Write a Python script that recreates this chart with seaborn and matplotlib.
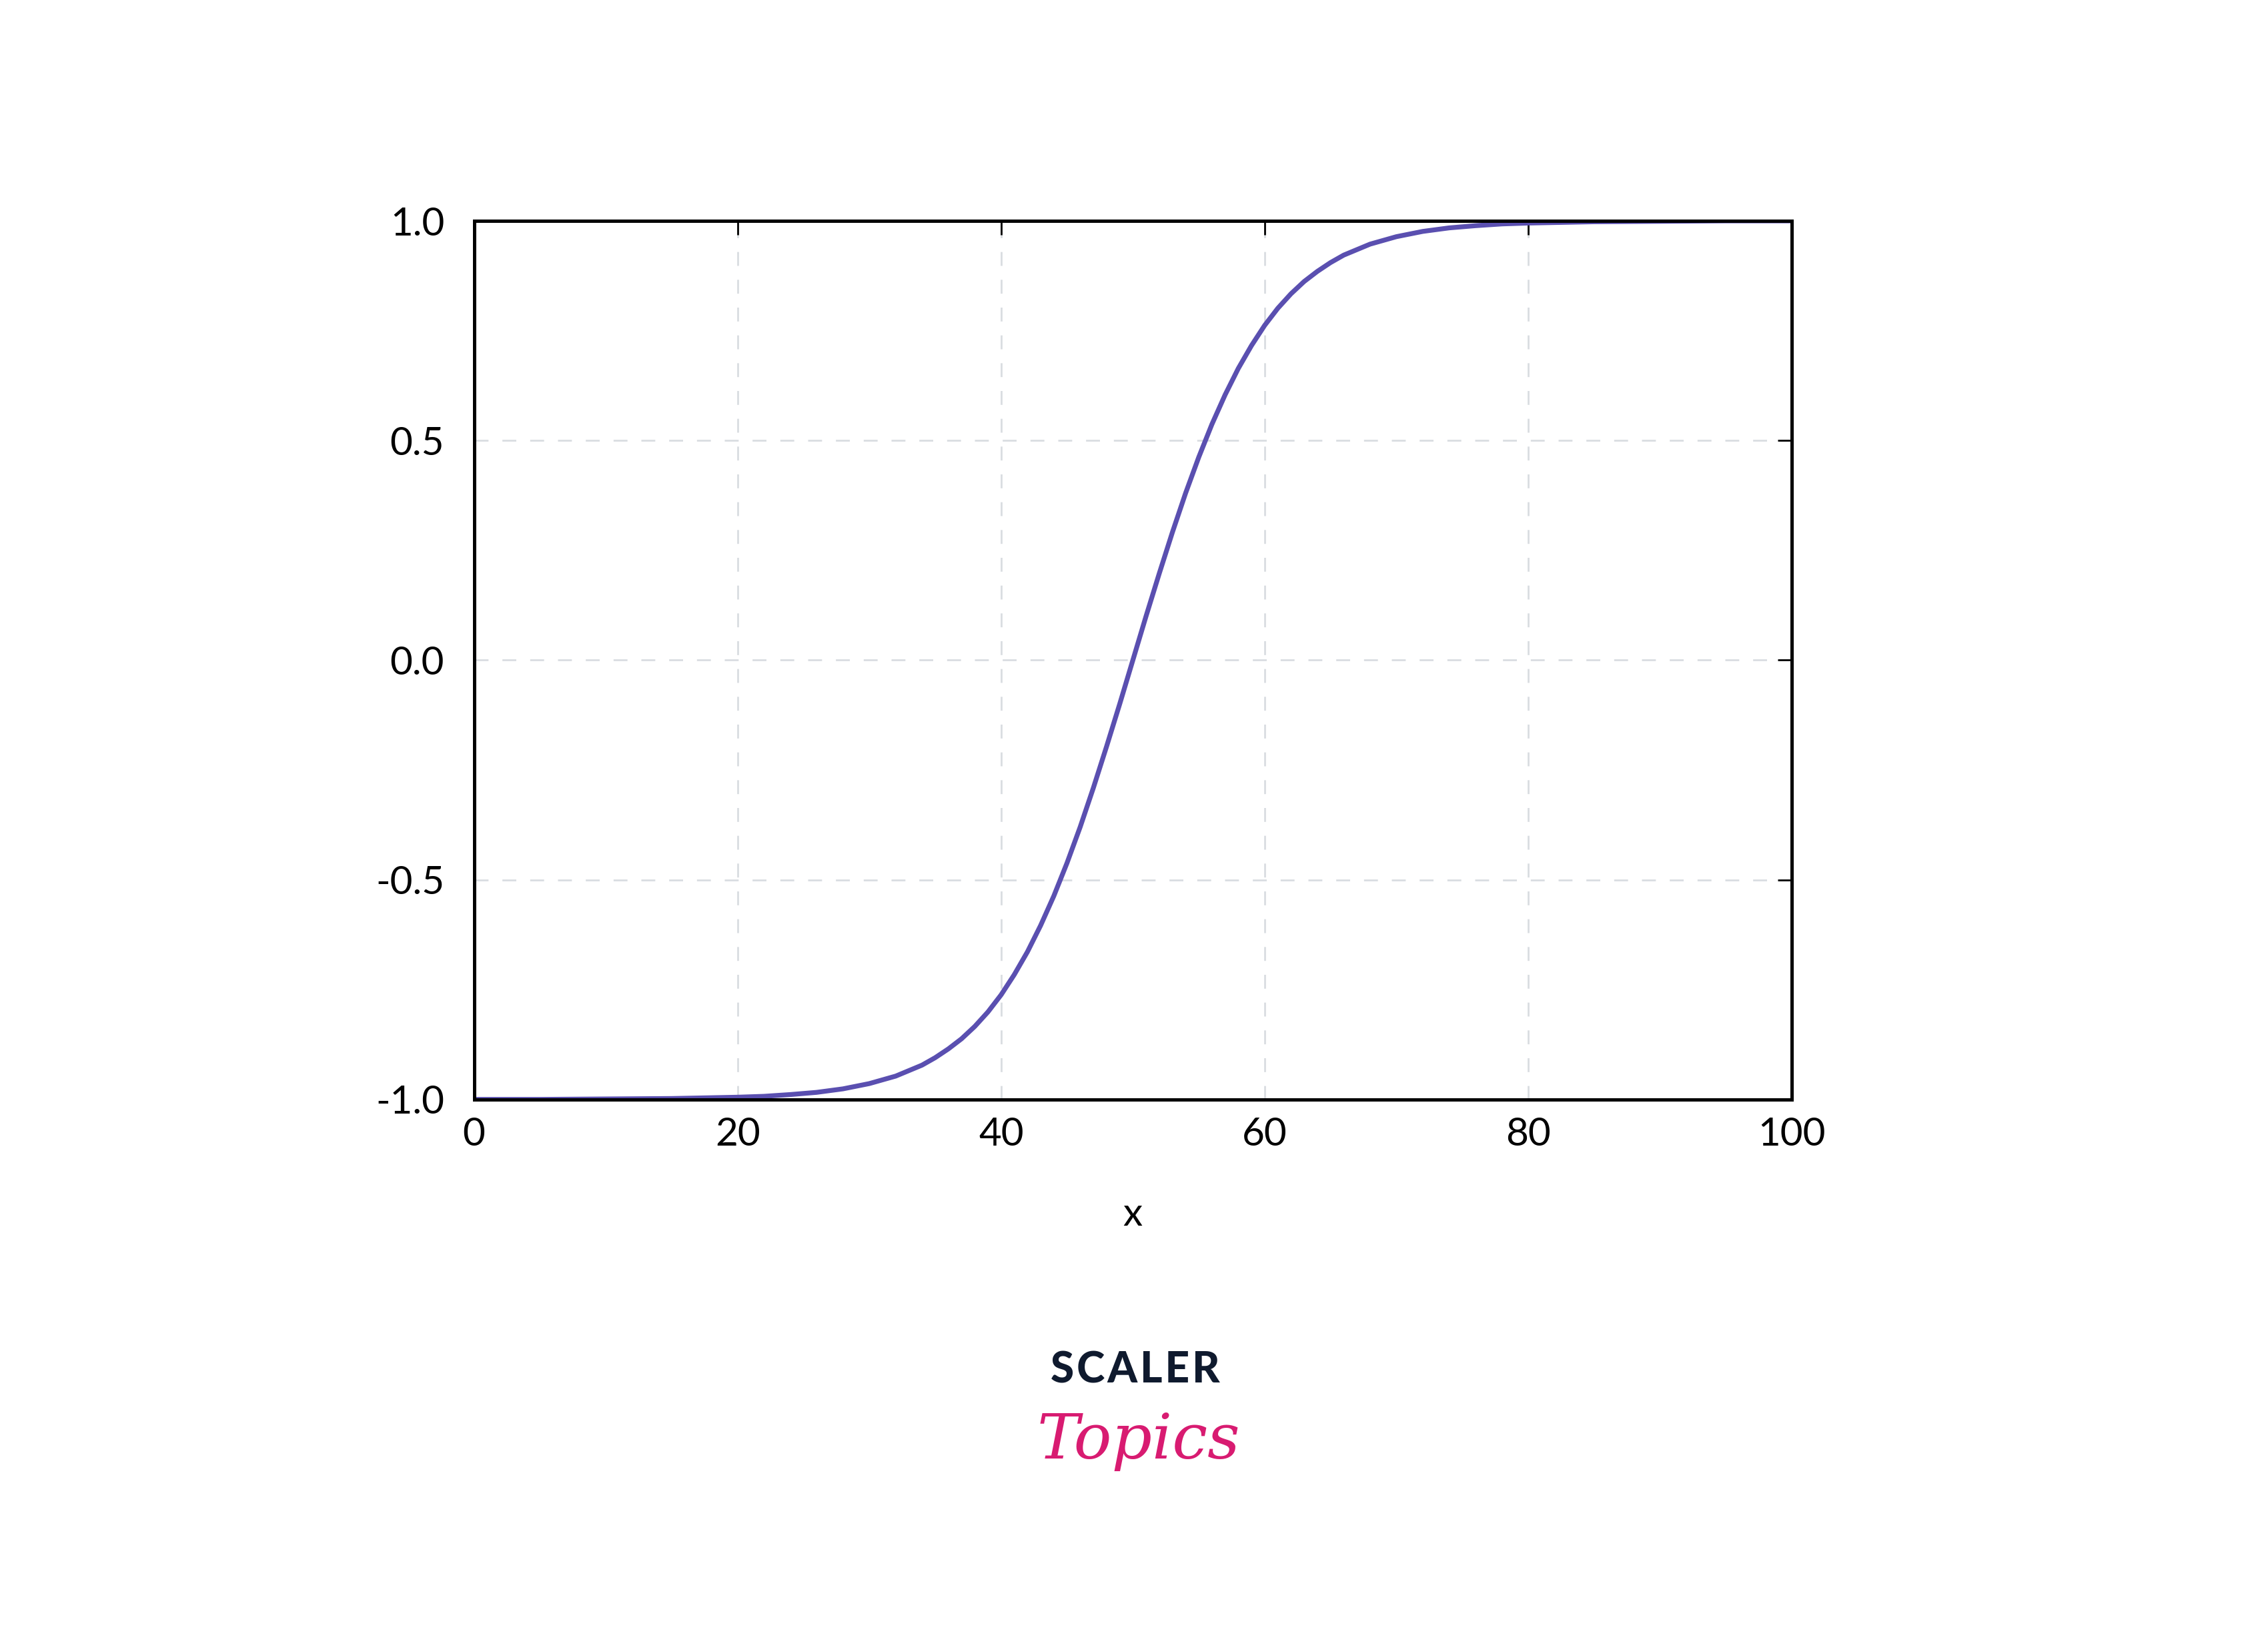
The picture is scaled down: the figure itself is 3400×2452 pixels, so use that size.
import matplotlib
matplotlib.use("Agg")
import matplotlib.pyplot as plt
import seaborn as sns
import pandas as pd

# values
x_vals = [0, 5, 10, 15, 20, 22, 24, 26, 28, 30, 32, 34, 35, 36, 37, 38, 39,
          40, 41, 42, 43, 44, 45, 46, 47, 48, 49, 50, 51, 52, 53, 54, 55,
          56, 57, 58, 59, 60, 61, 62, 63, 64, 65, 66, 68, 70, 72, 74, 76,
          78, 80, 85, 90, 95, 100]
y_vals = [-1.000, -1.000, -0.999, -0.998, -0.995, -0.993, -0.989, -0.984,
          -0.976, -0.964, -0.947, -0.922, -0.905, -0.885, -0.862, -0.834,
          -0.801, -0.762, -0.716, -0.664, -0.604, -0.537, -0.462, -0.380,
          -0.291, -0.197, -0.100, 0.000, 0.100, 0.197, 0.291, 0.380, 0.462,
          0.537, 0.604, 0.664, 0.716, 0.762, 0.801, 0.834, 0.862, 0.885,
          0.905, 0.922, 0.947, 0.964, 0.976, 0.984, 0.989, 0.993, 0.995,
          0.998, 0.999, 1.000, 1.000]

x_ticks = [0, 20, 40, 60, 80, 100]
y_ticks = [-1.0, -0.5, 0.0, 0.5, 1.0]
y_tick_labels = ["-1.0", "-0.5", "0.0", "0.5", "1.0"]

LINE_COLOR = "#5a4fb0"
GRID_COLOR = "#d9dde1"

sns.set_theme(style="white")
plt.rcParams["font.family"] = ["Lato", "DejaVu Sans"]
plt.rcParams["axes.unicode_minus"] = False

df = pd.DataFrame({"x": x_vals, "y": y_vals})

fig = plt.figure(figsize=(17, 12.26), dpi=200)
ax = fig.add_axes([0.209, 0.328, 0.581, 0.537])

# dashed grid underneath the curve
for xv in x_ticks[1:-1]:
    ax.axvline(xv, color=GRID_COLOR, lw=1.0, dashes=(7.5, 7.5), zorder=0)
for yv in y_ticks[1:-1]:
    ax.axhline(yv, color=GRID_COLOR, lw=1.0, dashes=(7.5, 7.5), zorder=0)

sns.lineplot(data=df, x="x", y="y", ax=ax, color=LINE_COLOR, linewidth=2.6,
             zorder=3)

ax.set_xlim(0, 100)
ax.set_ylim(-1, 1)
ax.set_xticks(x_ticks)
ax.set_yticks(y_ticks)
ax.set_yticklabels(y_tick_labels)

for s in ax.spines.values():
    s.set_visible(True)
    s.set_color("black")
    s.set_linewidth(1.8)
    s.set_zorder(4)

ax.tick_params(axis="both", which="major", direction="in", length=7.5,
               width=1.0, color="black", labelsize=21, labelcolor="black",
               top=True, right=True)
ax.tick_params(axis="x", pad=9.5)
ax.tick_params(axis="y", pad=16)

ax.set_xlabel("x", fontsize=21, labelpad=24, color="black")
ax.set_ylabel("")

# watermark logo
fig.text(0.5005, 0.1625, "\u200a".join("SCALER"), ha="center", va="center",
         fontsize=23, fontweight="black", color="#0f1a2e",
         family=["Lato", "DejaVu Sans"])
fig.text(0.502, 0.119, "Topics", ha="center", va="center", fontsize=34,
         style="italic", color="#d81b71", family=["DejaVu Serif"])

fig.savefig("out.png", dpi=200)
